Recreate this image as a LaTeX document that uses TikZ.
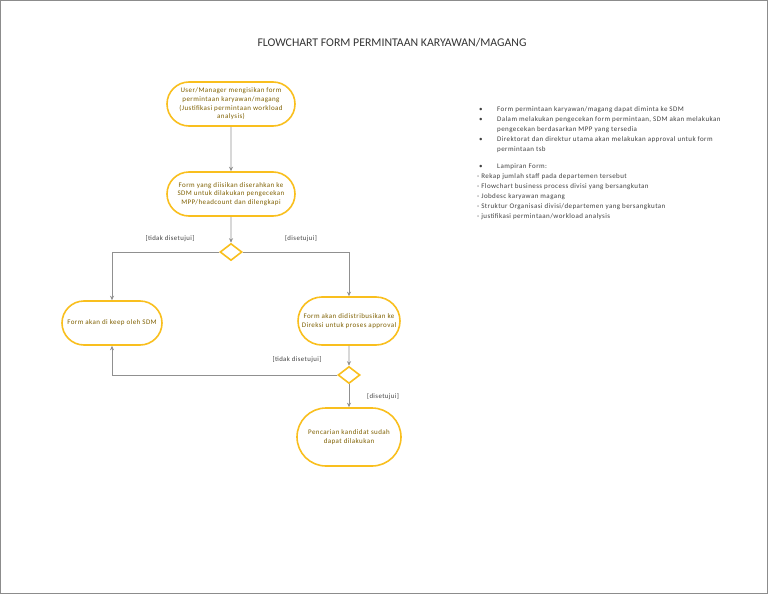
\documentclass[tikz,border=0pt]{standalone}
\usepackage{fontspec}
\setmainfont{Carlito}
\newfontfamily\spaced[LetterSpace=6]{Carlito}
\usetikzlibrary{shapes.misc,shapes.geometric,arrows.meta}
\definecolor{gold}{HTML}{F9BF1E}
\definecolor{txt}{HTML}{7F6000}
\definecolor{ln}{HTML}{909090}
\begin{document}
\begin{tikzpicture}[x=1pt,y=-1pt,
  proc/.style={rounded rectangle, draw=gold, line width=1.6pt, fill=white, text=txt,
    font=\spaced\fontsize{7}{8.6}\selectfont, align=center, inner sep=2pt},
  dec/.style={diamond, draw=gold, line width=1.6pt, fill=white, minimum width=22pt, minimum height=17pt, inner sep=0pt},
  conn/.style={draw=ln, line width=0.8pt, -{Stealth[length=4.5pt,width=4pt]}},
  lbl/.style={text=black!75, font=\spaced\fontsize{6.8}{8}\selectfont, inner sep=0pt},
  note/.style={text=black!75, font=\spaced\fontsize{7}{10}\selectfont, inner sep=0pt, anchor=west}]
\useasboundingbox (0,0) rectangle (768,594);
\draw[black!45, line width=0.8pt] (0.6,0.6) rectangle (767.4,593.4);
\node[font=\fontsize{11.8}{13}\selectfont, text=black!80] (title) at (392,43) {FLOWCHART FORM PERMINTAAN KARYAWAN/MAGANG};

\node[proc, minimum width=132pt, minimum height=44pt] (b1) at (231,104) {User/Manager mengisikan form\\permintaan karyawan/magang\\(Justifikasi permintaan workload\\analysis)};
\node[proc, minimum width=132pt, minimum height=44pt] (b2) at (231,194) {Form yang diisikan diserahkan ke\\SDM untuk dilakukan pengecekan\\MPP/headcount dan dilengkapi};
\node[dec] (d1) at (231,252) {};
\node[proc, minimum width=104pt, minimum height=44pt] (b3) at (112,323) {Form akan di keep oleh SDM};
\node[proc, minimum width=106pt, minimum height=48pt] (b4) at (349,321) {Form akan didistribusikan ke\\Direksi untuk proses approval};
\node[dec] (d2) at (349,375) {};
\node[proc, minimum width=108pt, minimum height=58pt] (b5) at (349,437) {Pencarian kandidat sudah\\dapat dilakukan};

\draw[conn] (b1) -- (b2);
\draw[conn] (b2) -- (d1);
\draw[conn] (d1.west) -| (b3.north);
\draw[conn] (d1.east) -| (b4.north);
\draw[conn] (b4) -- (d2);
\draw[conn] (d2.west) -| (b3.south);
\draw[conn] (d2) -- (b5);

\node[lbl] (l1) at (170,239) {[tidak disetujui]};
\node[lbl] (l2) at (301,239) {[disetujui]};
\node[lbl] (l3) at (297,360) {[tidak disetujui]};
\node[lbl] (l4) at (383,397) {[disetujui]};

\node[note] (n1) at (479,109.5) {\textbullet};
\node[note] (t1) at (497,109.5) {Form permintaan karyawan/magang dapat diminta ke SDM};
\node[note] (n2) at (479,119.5) {\textbullet};
\node[note] (t2) at (497,119.5) {Dalam melakukan pengecekan form permintaan, SDM akan melakukan};
\node[note] (t2b) at (497,129.5) {pengecekan berdasarkan MPP yang tersedia};
\node[note] (n3) at (479,139.5) {\textbullet};
\node[note] (t3) at (497,139.5) {Direktorat dan direktur utama akan melakukan approval untuk form};
\node[note] (t3b) at (497,149.5) {permintaan tsb};
\node[note] (n4) at (479,167) {\textbullet};
\node[note] (t4) at (497,167) {Lampiran Form:};
\node[note] (t5) at (477,177) {- Rekap jumlah staff pada departemen tersebut};
\node[note] (t6) at (477,186.8) {- Flowchart business process divisi yang bersangkutan};
\node[note] (t7) at (477,196.6) {- Jobdesc karyawan magang};
\node[note] (t8) at (477,206.4) {- Struktur Organisasi divisi/departemen yang bersangkutan};
\node[note] (t9) at (477,216.2) {- justifikasi permintaan/workload analysis};
\end{tikzpicture}
\end{document}
